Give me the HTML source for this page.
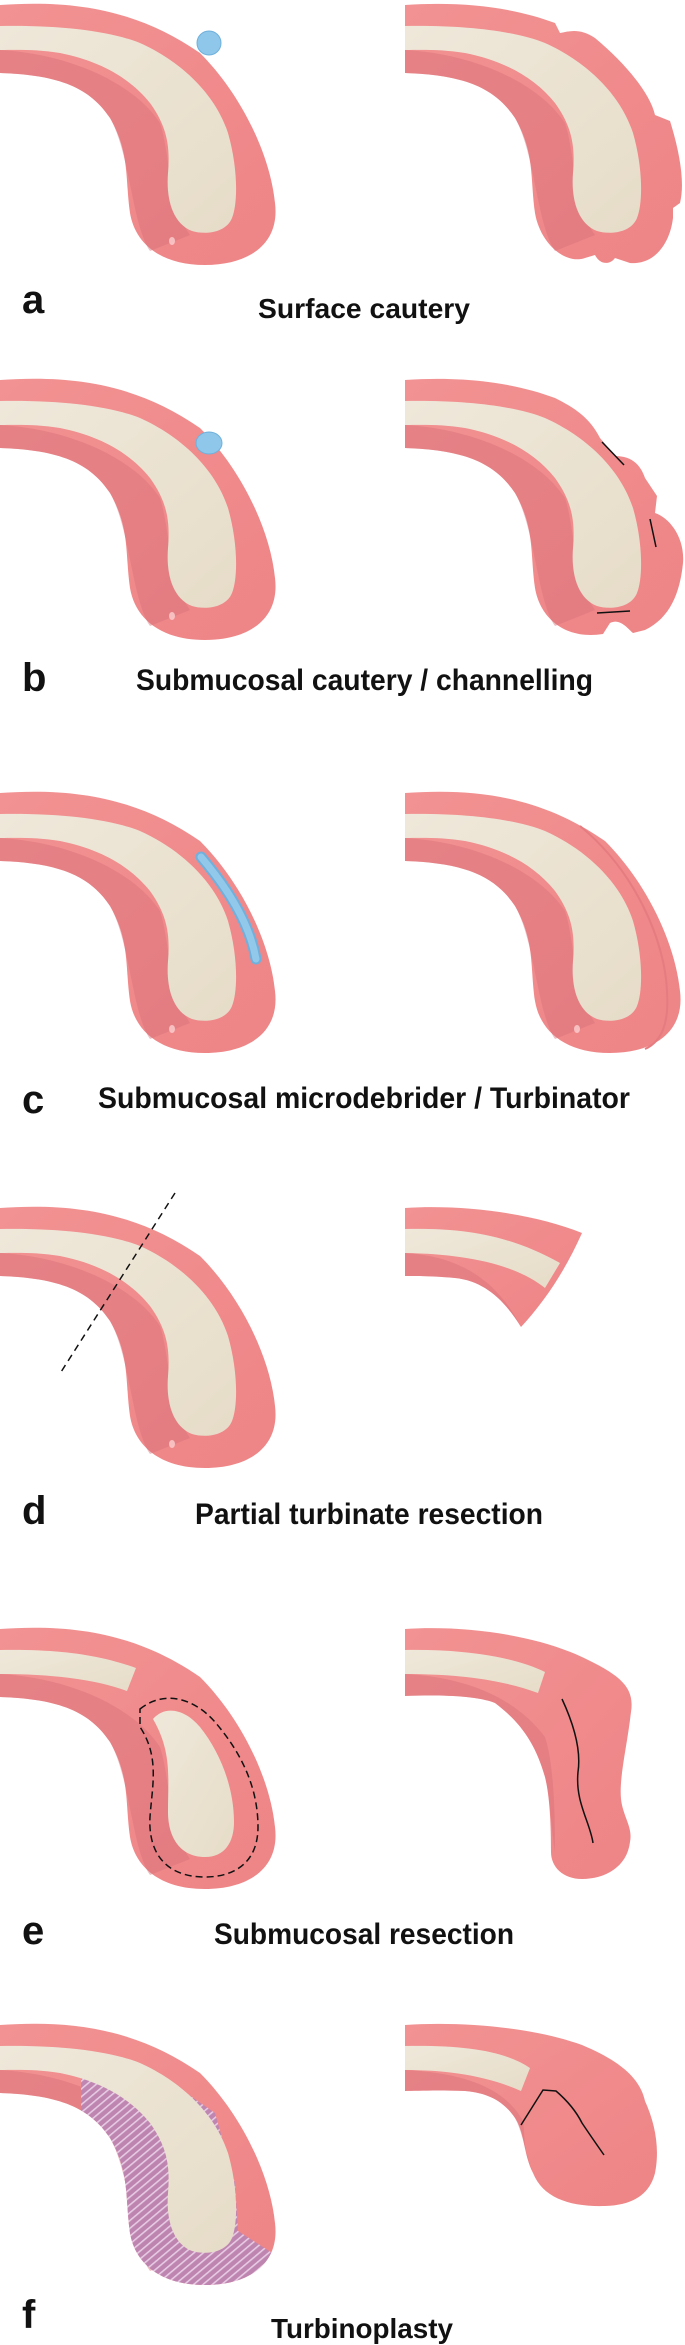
<!DOCTYPE html>
<html><head><meta charset="utf-8"><style>html,body{margin:0;padding:0;background:#fff}svg{display:block}</style></head>
<body>
<svg width="685" height="2345" viewBox="0 0 685 2345" xmlns="http://www.w3.org/2000/svg">
<defs>
<linearGradient id="muc" x1="0" y1="0" x2="1" y2="1">
<stop offset="0" stop-color="#f29292"/><stop offset="1" stop-color="#ee8486"/></linearGradient>
<linearGradient id="bone" x1="0" y1="0" x2="1" y2="1">
<stop offset="0" stop-color="#efe8da"/><stop offset="1" stop-color="#e6dcc8"/></linearGradient>
<pattern id="hatch" width="6" height="6" patternUnits="userSpaceOnUse" patternTransform="rotate(-40)">
<rect width="6" height="6" fill="#b985b5"/><rect width="6" height="1.6" fill="#e6d2ee"/></pattern>
<path id="outer" d="M0,2 C70,-3 135,5 200,50 C240,90 270,150 275,200 C280,240 250,262 205,262 C160,262 135,240 130,210 C125,175 130,150 110,115 C90,85 60,72 0,70 Z"/>
<path id="shade" d="M0,47 C60,50 130,75 160,120 C170,150 168,200 190,232 L150,248 C132,222 130,150 110,115 C90,85 60,72 0,70 Z"/>
<path id="bonep" d="M0,23 C60,22 110,28 140,40 C180,58 215,90 228,130 C238,165 238,200 232,215 C226,230 205,232 192,228 C172,220 166,195 168,170 C170,145 168,125 150,100 C130,75 100,58 60,50 C35,46 15,47 0,47 Z"/>
<g id="turb">
<use href="#outer" fill="url(#muc)"/>
<use href="#shade" fill="#d6717a" opacity="0.45"/>
<use href="#bonep" fill="url(#bone)"/>
<ellipse cx="172" cy="238" rx="3" ry="4" fill="#fbd0d0" opacity="0.8"/>
</g>
<clipPath id="outerclip"><use href="#outer"/></clipPath>
</defs>

<!-- a -->
<g transform="translate(0,3)">
<use href="#turb"/>
<circle cx="209" cy="40" r="12" fill="#8ec7ea" stroke="#6fb0dc" stroke-width="1"/>
</g>
<g transform="translate(405,3)">
<path d="M0,2 C60,-2 110,5 150,20 L155,30 C165,28 175,25 190,35 C220,60 245,90 250,112 L265,118 C275,150 280,180 275,200 L268,205 L268,215 C265,240 250,262 225,260 L210,255 C205,262 195,262 190,252 L180,255 C160,262 135,240 130,210 C125,175 130,150 110,115 C90,85 60,72 0,70 Z" fill="url(#muc)"/>
<use href="#shade" fill="#d6717a" opacity="0.45"/>
<use href="#bonep" fill="url(#bone)"/>
</g>
<text x="22" y="313" font-family="Liberation Sans, sans-serif" font-weight="bold" font-size="40" fill="#111">a</text>
<text x="258" y="318" font-family="Liberation Sans, sans-serif" font-weight="bold" font-size="28" textLength="212" lengthAdjust="spacingAndGlyphs" fill="#111">Surface cautery</text>

<!-- b -->
<g transform="translate(0,378)">
<use href="#turb"/>
<ellipse cx="209" cy="65" rx="13" ry="11" fill="#8ec7ea" stroke="#6fb0dc" stroke-width="1"/>
</g>
<g transform="translate(405,378)">
<path d="M0,2 C60,-2 110,5 150,20 C170,30 185,40 195,60 L210,78 C225,78 235,85 240,100 L252,118 L250,135 C265,140 280,160 278,185 C275,215 265,240 240,252 L228,255 C222,250 215,240 205,245 L198,256 C160,262 135,240 130,210 C125,175 130,150 110,115 C90,85 60,72 0,70 Z" fill="url(#muc)"/>
<use href="#shade" fill="#d6717a" opacity="0.45"/>
<use href="#bonep" fill="url(#bone)"/>
<line x1="197" y1="64" x2="219" y2="87" stroke="#111" stroke-width="1.5"/>
<line x1="245" y1="141" x2="251" y2="169" stroke="#111" stroke-width="1.5"/>
<line x1="192" y1="235" x2="225" y2="233" stroke="#111" stroke-width="1.5"/>
</g>
<text x="22" y="691" font-family="Liberation Sans, sans-serif" font-weight="bold" font-size="40" fill="#111">b</text>
<text x="136" y="690" font-family="Liberation Sans, sans-serif" font-weight="bold" font-size="30" textLength="457" lengthAdjust="spacingAndGlyphs" fill="#111">Submucosal cautery / channelling</text>

<!-- c -->
<g transform="translate(0,791)">
<use href="#turb"/>
<path d="M201,66 C230,100 250,135 256,168" fill="none" stroke="#6fb0dc" stroke-width="11" stroke-linecap="round"/>
<path d="M201,66 C230,100 250,135 256,168" fill="none" stroke="#92c8ea" stroke-width="7" stroke-linecap="round"/>
</g>
<g transform="translate(405,791)">
<use href="#turb"/>
<path d="M175,35 C230,80 260,150 262,200 C264,230 258,250 240,258" fill="none" stroke="#e57c80" stroke-width="2"/>
</g>
<text x="22" y="1113" font-family="Liberation Sans, sans-serif" font-weight="bold" font-size="40" fill="#111">c</text>
<text x="98" y="1108" font-family="Liberation Sans, sans-serif" font-weight="bold" font-size="30" textLength="532" lengthAdjust="spacingAndGlyphs" fill="#111">Submucosal microdebrider / Turbinator</text>

<!-- d -->
<g transform="translate(0,1206)">
<use href="#turb"/>
<line x1="175" y1="-13" x2="61" y2="166" stroke="#111" stroke-width="1.5" stroke-dasharray="7,5"/>
</g>
<g transform="translate(405,1206)">
<path d="M0,2 C60,-2 130,8 177,27 C160,65 140,95 116,121 C100,95 80,75 50,72 C30,70 10,70 0,70 Z" fill="url(#muc)"/>
<path d="M0,47 C50,50 90,70 116,121 C100,95 80,75 50,72 C30,70 10,70 0,70 Z" fill="#d6717a" opacity="0.45"/>
<path d="M0,23 C50,22 100,26 155,57 L140,82 C110,58 60,48 0,47 Z" fill="url(#bone)"/>
</g>
<text x="22" y="1524" font-family="Liberation Sans, sans-serif" font-weight="bold" font-size="40" fill="#111">d</text>
<text x="195" y="1524" font-family="Liberation Sans, sans-serif" font-weight="bold" font-size="30" textLength="348" lengthAdjust="spacingAndGlyphs" fill="#111">Partial turbinate resection</text>

<!-- e -->
<g transform="translate(0,1627)">
<use href="#outer" fill="url(#muc)"/>
<use href="#shade" fill="#d6717a" opacity="0.45"/>
<path d="M0,23 C60,22 100,28 136,41 L127,64 C95,52 50,47 0,47 Z" fill="url(#bone)"/>
<path d="M153,92 C165,78 185,82 200,100 C220,125 234,160 234,195 C234,215 225,230 205,230 C180,230 168,210 168,185 C168,150 172,125 153,92 Z" fill="url(#bone)"/>
<path d="M140,82 C165,62 195,72 215,95 C245,130 258,165 258,200 C258,235 235,250 205,250 C165,250 148,225 150,190 C152,160 160,130 140,100 Z" fill="none" stroke="#111" stroke-width="1.5" stroke-dasharray="7,4"/>
</g>
<g transform="translate(405,1627)">
<path d="M0,2 C60,-2 130,8 177,30 C215,48 230,60 226,85 C222,120 214,150 216,172 C218,190 228,200 225,215 C222,240 200,252 177,252 C158,252 146,240 146,225 C146,200 145,170 140,150 C130,115 115,95 90,76 C70,68 30,68 0,69 Z" fill="url(#muc)"/>
<path d="M0,47 C60,50 110,70 140,110 C150,140 150,200 150,225 C146,200 145,170 140,150 C130,115 115,95 90,76 C70,68 30,68 0,69 Z" fill="#d6717a" opacity="0.45"/>
<path d="M0,23 C60,22 110,30 140,45 L133,66 C95,52 50,47 0,47 Z" fill="url(#bone)"/>
<path d="M157,72 C170,100 176,125 173,145 C170,175 185,195 188,216" fill="none" stroke="#111" stroke-width="1.5"/>
</g>
<text x="22" y="1944" font-family="Liberation Sans, sans-serif" font-weight="bold" font-size="40" fill="#111">e</text>
<text x="214" y="1944" font-family="Liberation Sans, sans-serif" font-weight="bold" font-size="30" textLength="300" lengthAdjust="spacingAndGlyphs" fill="#111">Submucosal resection</text>

<!-- f -->
<g transform="translate(0,2023)">
<use href="#outer" fill="url(#muc)"/>
<use href="#shade" fill="#d6717a" opacity="0.45"/>
<g clip-path="url(#outerclip)">
<path d="M81,45 L150,45 L215,90 L235,160 L238,208 L280,235 L280,300 L81,300 Z" fill="url(#hatch)" opacity="0.9"/>
</g>
<use href="#bonep" fill="url(#bone)"/>
</g>
<g transform="translate(405,2023)">
<path d="M0,2 C60,-2 130,5 177,22 C215,38 235,55 240,78 C250,100 255,125 250,150 C245,170 230,182 200,183 C165,184 138,175 128,150 C118,130 120,110 110,95 C100,80 85,70 60,68 C30,67 10,68 0,68 Z" fill="url(#muc)"/>
<path d="M0,47 C60,50 100,65 118,98 C120,110 118,130 128,150 C120,130 118,110 110,95 C100,80 85,70 60,68 C30,67 10,68 0,68 Z" fill="#d6717a" opacity="0.45"/>
<path d="M0,23 C60,22 100,28 125,45 L116,68 C80,52 40,47 0,47 Z" fill="url(#bone)"/>
<path d="M116,102 L138,67 L151,68 C165,80 172,90 177,100 C185,112 192,122 199,132" fill="none" stroke="#111" stroke-width="1.5"/>
</g>
<text x="22" y="2328" font-family="Liberation Sans, sans-serif" font-weight="bold" font-size="40" fill="#111">f</text>
<text x="271" y="2338" font-family="Liberation Sans, sans-serif" font-weight="bold" font-size="28" textLength="182" lengthAdjust="spacingAndGlyphs" fill="#111">Turbinoplasty</text>
</svg>
</body></html>
